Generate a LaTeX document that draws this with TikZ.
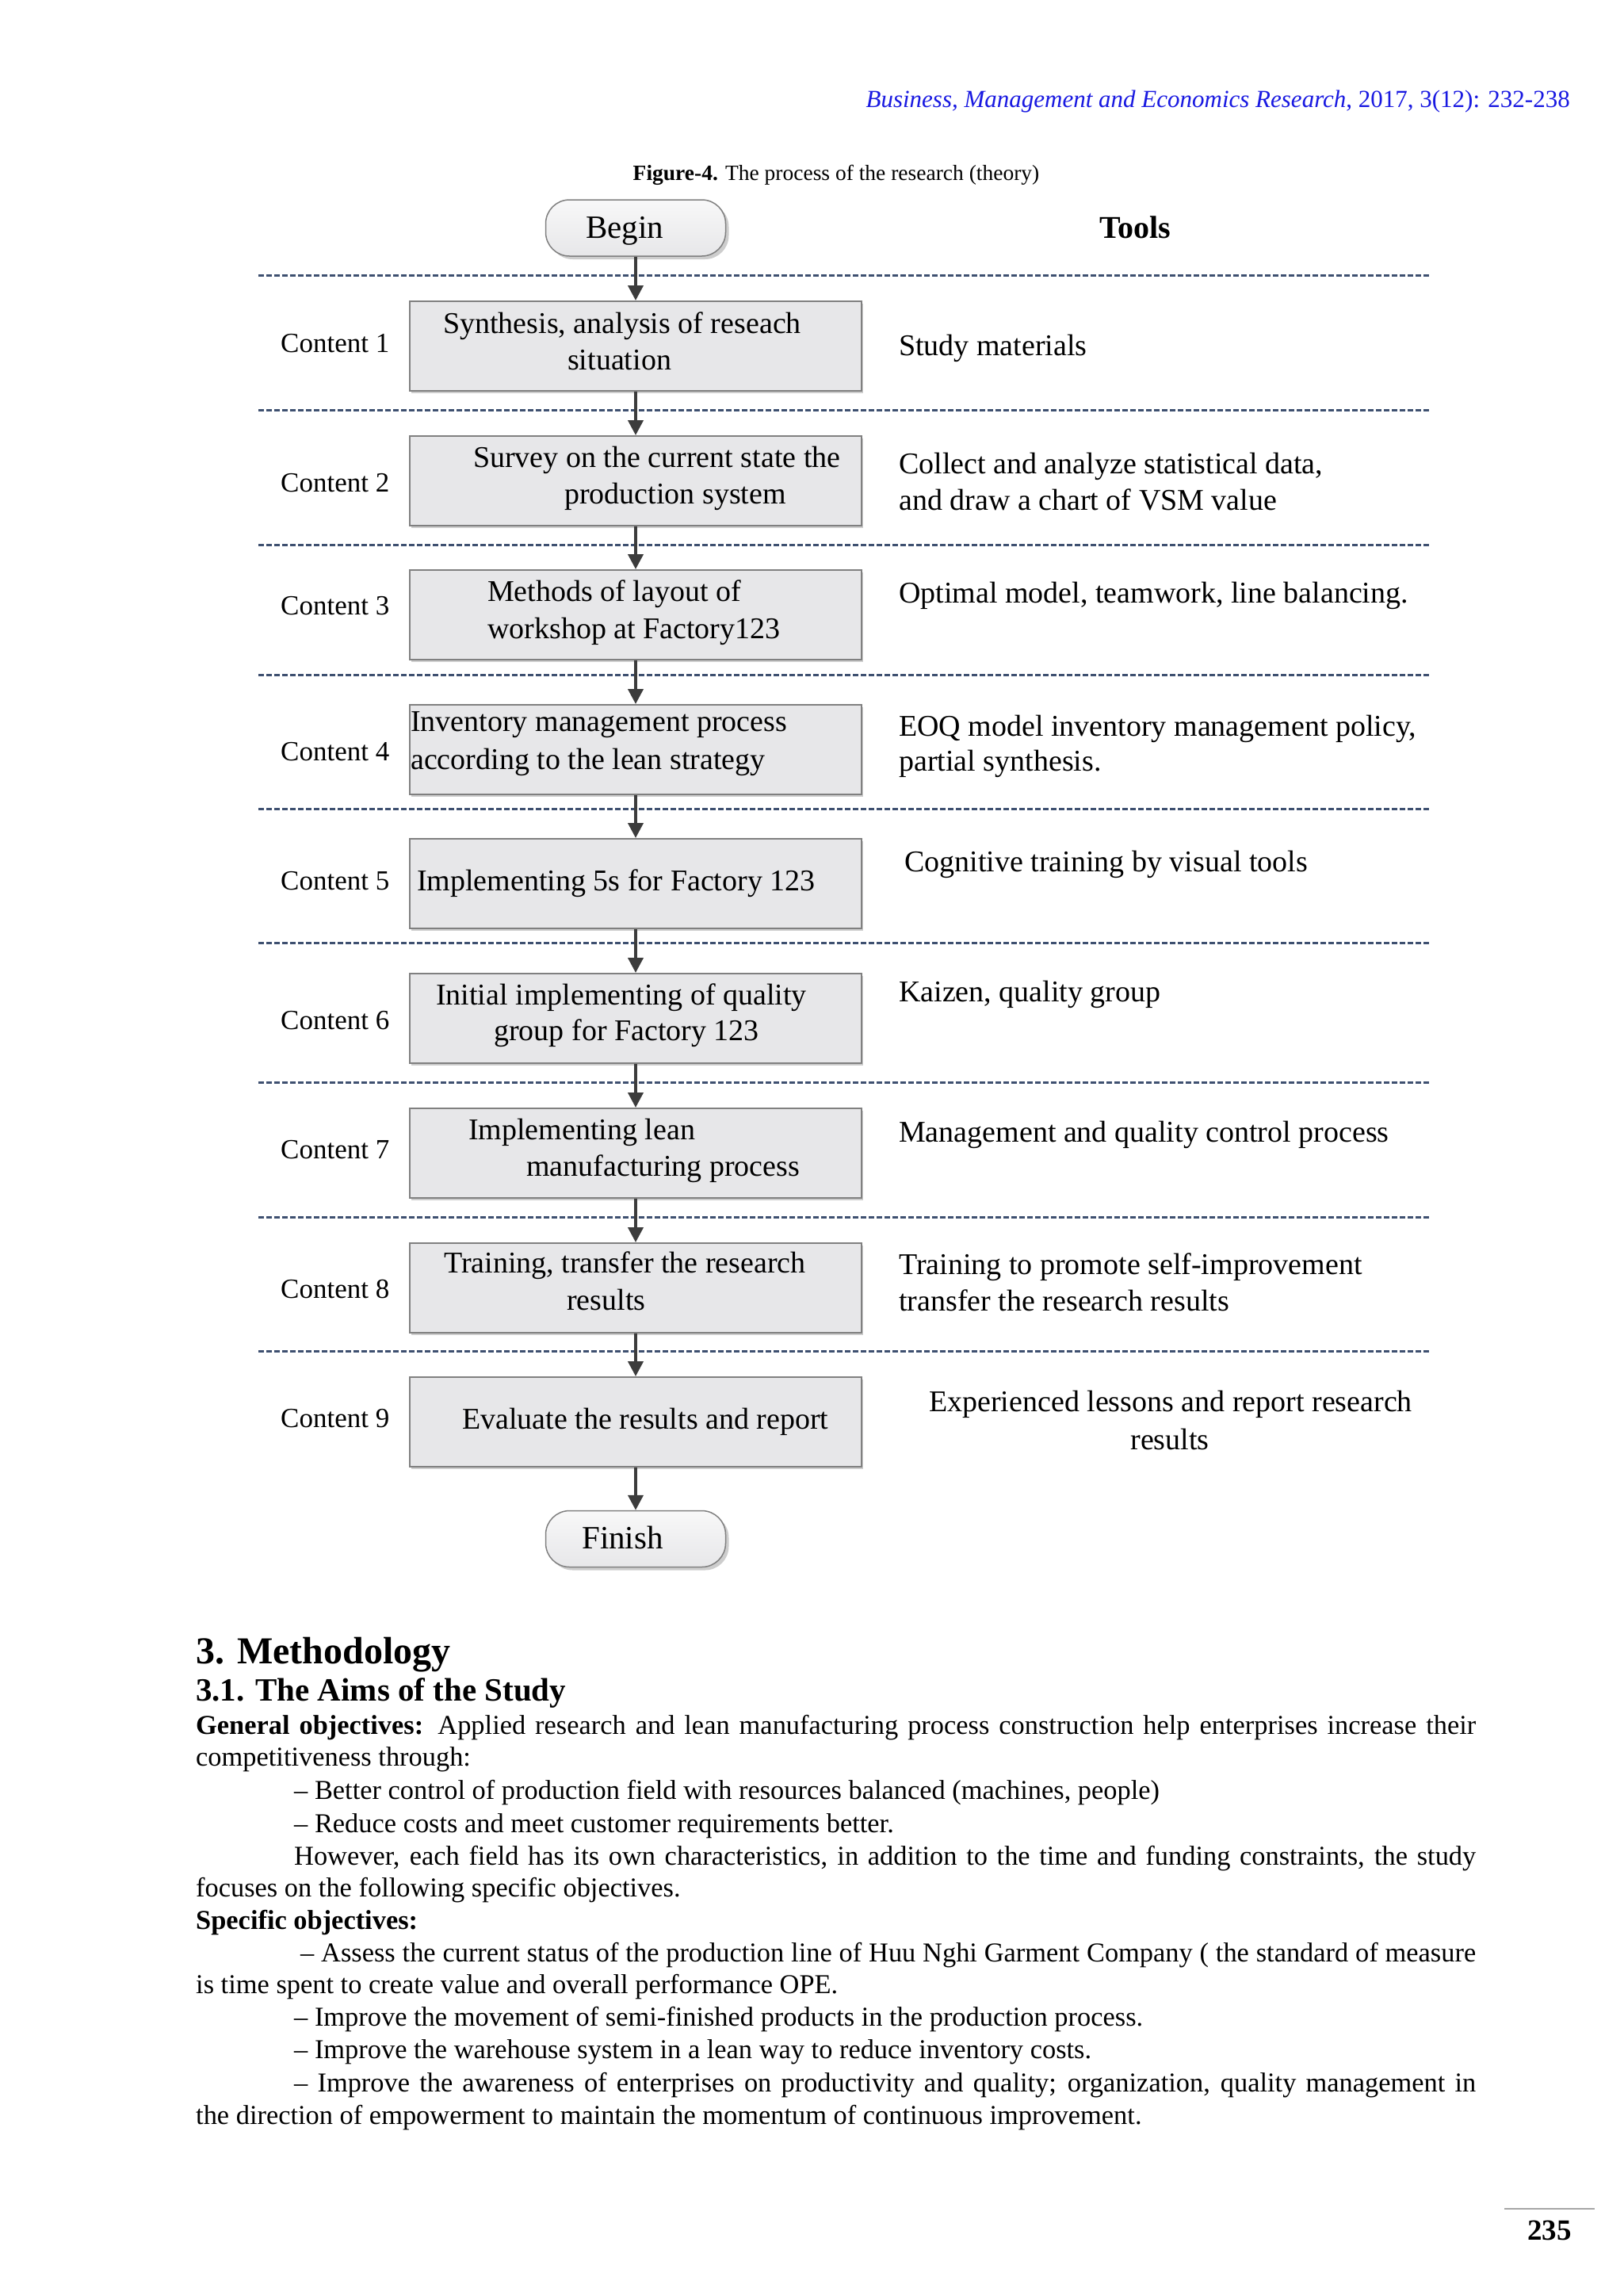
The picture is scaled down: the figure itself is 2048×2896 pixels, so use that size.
\documentclass[tikz,border=0pt]{standalone}
\usepackage{fontspec}
\setmainfont{Liberation Serif}
\usetikzlibrary{arrows.meta,shadows}
\definecolor{hdrblue}{RGB}{25,25,225}
\definecolor{dashcol}{RGB}{62,80,112}
\definecolor{arrcol}{RGB}{60,60,60}
\definecolor{boxfill}{RGB}{231,231,233}
\definecolor{boxdraw}{RGB}{128,128,128}
\definecolor{shadowcol}{RGB}{205,205,205}
\newcommand\fsz[1]{\fontsize{#1}{#1}\selectfont}
\begin{document}
\begin{tikzpicture}[x=1pt,y=-1pt,
  txt/.style={inner sep=0pt, anchor=base west},
  boxtxt/.style={txt, font=\fsz{38}},
  lbl/.style={txt, font=\fsz{35}},
  tooltxt/.style={txt, font=\fsz{38}},
  body/.style={txt, font=\fsz{34.4}},
  stepbox/.style={draw=boxdraw, line width=2pt, fill=boxfill, minimum width=570pt, minimum height=113pt, inner sep=0pt,
    drop shadow={shadow xshift=1.5pt, shadow yshift=-2.5pt, fill=shadowcol, opacity=1}},
  term/.style={draw=boxdraw, line width=1.5pt, top color=white!70!boxfill, bottom color=boxfill, rounded corners=30pt,
    minimum width=227pt, minimum height=71pt, inner sep=0pt,
    drop shadow={shadow xshift=4pt, shadow yshift=-4pt, fill=shadowcol, opacity=1}},
  sep/.style={draw=dashcol, line width=3pt, dash pattern=on 7pt off 3pt},
  flow/.style={draw=arrcol, line width=4pt, -{Triangle[width=19pt,length=19pt]}}
]
\useasboundingbox[fill=white] (0,0) rectangle (2048,2896);

% header and caption
\node[inner sep=0pt, anchor=base east, font=\fsz{31}, text=hdrblue] (hdr) at (1981,135)
  {\itshape Business, Management and Economics Research\upshape, 2017, 3(12): 232-238};
\node[inner sep=0pt, anchor=base, font=\fsz{27.5}] (cap) at (1055,227)
  {\textbf{Figure-4.} The process of the research (theory)};

% separators
\foreach \yy [count=\i] in {347,517,687,851,1020,1189,1365,1535,1704}{
  \coordinate (sl\i) at (326,\yy);
  \coordinate (sr\i) at (1806,\yy);
  \draw[sep] (sl\i) -- (sr\i);
}

% terminals and boxes
\node[term] (begin) at (802,287.5) {};
\node[term] (finish) at (802,1941) {};
\foreach \yy [count=\i] in {379,549,718,888,1057,1227,1397,1567,1736}{
  \node[stepbox, anchor=north] (b\i) at (802,\yy) {};
}

% connectors
\draw[flow] (begin) -- (b1);
\draw[flow] (b1) -- (b2);
\draw[flow] (b2) -- (b3);
\draw[flow] (b3) -- (b4);
\draw[flow] (b4) -- (b5);
\draw[flow] (b5) -- (b6);
\draw[flow] (b6) -- (b7);
\draw[flow] (b7) -- (b8);
\draw[flow] (b8) -- (b9);
\draw[flow] (b9) -- (finish);

% terminal texts and title
\node[txt, font=\fsz{41}] (tbegin) at (739,300) {Begin};
\node[txt, font=\fsz{41}] (tfinish) at (734,1953) {Finish};
\node[txt, font=\fsz{40}\bfseries] (tools) at (1387,300) {Tools};

% content labels
\node[lbl] (c1) at (354,444) {Content 1};
\node[lbl] (c2) at (354,620) {Content 2};
\node[lbl] (c3) at (354,775) {Content 3};
\node[lbl] (c4) at (354,959) {Content 4};
\node[lbl] (c5) at (354,1122) {Content 5};
\node[lbl] (c6) at (354,1298) {Content 6};
\node[lbl] (c7) at (354,1461) {Content 7};
\node[lbl] (c8) at (354,1637) {Content 8};
\node[lbl] (c9) at (354,1800) {Content 9};

% box texts
\node[boxtxt] (b1a) at (559,420) {Synthesis, analysis of reseach};
\node[boxtxt] (b1b) at (716,466) {situation};
\node[boxtxt] (b2a) at (597,589) {Survey on the current state the};
\node[boxtxt] (b2b) at (712,635) {production system};
\node[boxtxt] (b3a) at (615,758) {Methods of layout of};
\node[boxtxt] (b3b) at (615,805) {workshop at Factory123};
\node[boxtxt] (b4a) at (518,922) {Inventory management process};
\node[boxtxt] (b4b) at (518,970) {according to the lean strategy};
\node[boxtxt] (b5a) at (526,1123) {Implementing 5s for Factory 123};
\node[boxtxt] (b6a) at (550,1267) {Initial implementing of quality};
\node[boxtxt] (b6b) at (623,1312) {group for Factory 123};
\node[boxtxt] (b7a) at (591,1437) {Implementing lean};
\node[boxtxt] (b7b) at (664,1483) {manufacturing process};
\node[boxtxt] (b8a) at (560,1605) {Training, transfer the research};
\node[boxtxt] (b8b) at (715,1652) {results};
\node[boxtxt] (b9a) at (583,1802) {Evaluate the results and report};

% tools texts
\node[tooltxt] (r1) at (1134,448) {Study materials};
\node[tooltxt] (r2a) at (1134,597) {Collect and analyze statistical data,};
\node[tooltxt] (r2b) at (1134,643) {and draw a chart of VSM value};
\node[tooltxt] (r3) at (1134,760) {Optimal model, teamwork, line balancing.};
\node[tooltxt] (r4a) at (1134,928) {EOQ model inventory management policy,};
\node[tooltxt] (r4b) at (1134,972) {partial synthesis.};
\node[tooltxt] (r5) at (1141,1099) {Cognitive training by visual tools};
\node[tooltxt] (r6) at (1134,1263) {Kaizen, quality group};
\node[tooltxt] (r7) at (1134,1440) {Management and quality control process};
\node[tooltxt] (r8a) at (1134,1607) {Training to promote self-improvement};
\node[tooltxt] (r8b) at (1134,1653) {transfer the research results};
\node[tooltxt, anchor=base] (r9a) at (1477,1780) {Experienced lessons and report research};
\node[tooltxt, anchor=base] (r9b) at (1476,1828) {results};

% body text
\node[txt, font=\fsz{48}\bfseries] (h1) at (247,2098) {3. Methodology};
\node[txt, font=\fsz{41}\bfseries] (h2) at (247,2145) {3.1. The Aims of the Study};
\node[body] (p1) at (247,2187) {\makebox[1615pt][s]{\textbf{General objectives:} Applied research and lean manufacturing process construction help enterprises increase their}};
\node[body] (p2) at (247,2227) {competitiveness through:};
\node[body] (p3) at (371,2269) {– Better control of production field with resources balanced (machines, people)};
\node[body] (p4) at (371,2311) {– Reduce costs and meet customer requirements better.};
\node[body] (p5) at (371,2352) {\makebox[1491pt][s]{However, each field has its own characteristics, in addition to the time and funding constraints, the study}};
\node[body] (p6) at (247,2392) {focuses on the following specific objectives.};
\node[body] (p7) at (247,2433) {\textbf{Specific objectives:}};
\node[body] (p8) at (379,2474) {\makebox[1483pt][s]{– Assess the current status of the production line of Huu Nghi Garment Company ( the standard of measure}};
\node[body] (p9) at (247,2514) {is time spent to create value and overall performance OPE.};
\node[body] (p10) at (371,2555) {– Improve the movement of semi-finished products in the production process.};
\node[body] (p11) at (371,2596) {– Improve the warehouse system in a lean way to reduce inventory costs.};
\node[body] (p12) at (371,2638) {\makebox[1491pt][s]{– Improve the awareness of enterprises on productivity and quality; organization, quality management in}};
\node[body] (p13) at (247,2679) {the direction of empowerment to maintain the momentum of continuous improvement.};

% page number
\coordinate (pl) at (1898,2786);
\coordinate (pr) at (2012,2786);
\draw[line width=2pt, draw=gray!70] (pl) -- (pr);
\node[inner sep=0pt, anchor=base, font=\fsz{37}\bfseries] (pnum) at (1955,2825) {235};
\end{tikzpicture}
\end{document}
